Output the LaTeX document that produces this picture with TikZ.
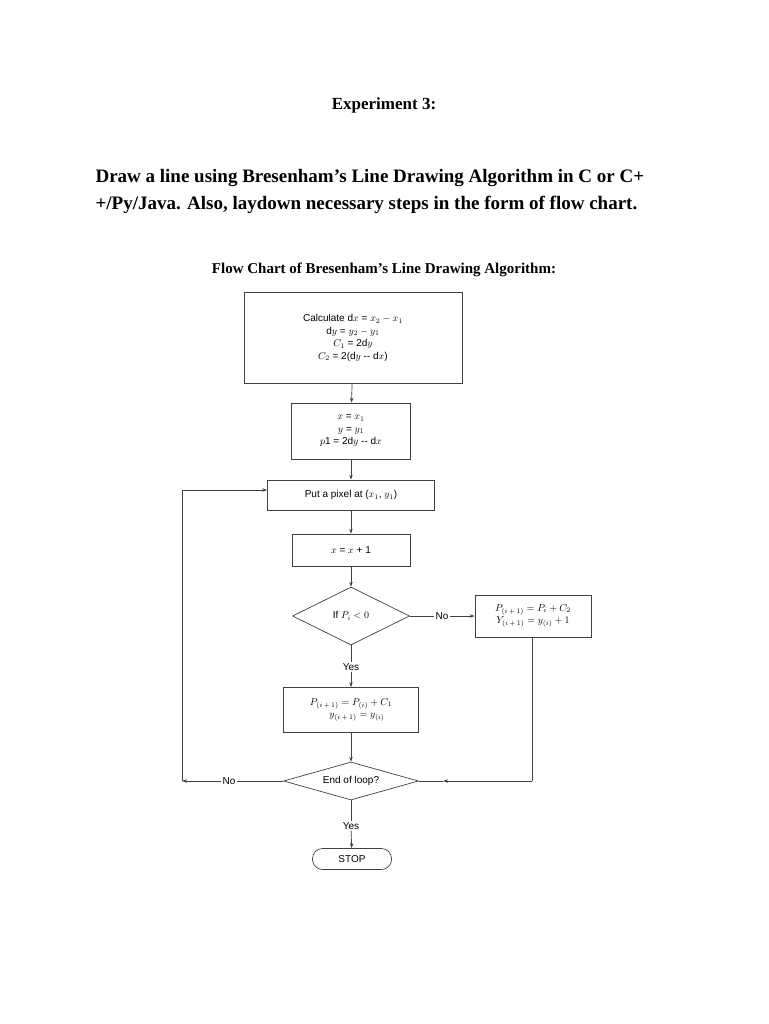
\documentclass[tikz,border=0pt]{standalone}
\usepackage{fontspec}
\setmainfont{Liberation Serif}
\newfontfamily\chartfont{Liberation Sans}
\usetikzlibrary{shapes.geometric,arrows.meta}
\begin{document}
\begin{tikzpicture}[x=1pt,y=-1pt,
  box/.style={draw=black!75,line width=0.7pt,rectangle,align=center,font=\chartfont\fontsize{10}{12.5}\selectfont,inner sep=0pt},
  dia/.style={draw=black!75,line width=0.7pt,diamond,aspect=2,inner sep=0pt,font=\chartfont\fontsize{10}{12}\selectfont},
  lbl/.style={font=\chartfont\fontsize{10}{12}\selectfont,inner sep=1pt},
  arr/.style={draw=black!75,line width=0.7pt,-{Stealth[length=5pt,width=3.5pt]}},
  ln/.style={draw=black!75,line width=0.7pt}]
\useasboundingbox (0,0) rectangle (768,1024);
\node[font=\bfseries\fontsize{17}{20}\selectfont] (t1) at (384,105) {Experiment 3:};
\node[font=\bfseries\fontsize{19}{27}\selectfont,anchor=north west,align=left] (t2) at (92,166)
 {Draw a line using Bresenham’s Line Drawing Algorithm in C or C+\\+/Py/Java. Also, laydown necessary steps in the form of flow chart.};
\node[font=\bfseries\fontsize{15}{18}\selectfont] (t3) at (384,270) {Flow Chart of Bresenham’s Line Drawing Algorithm:};

\node[box,minimum width=218pt,minimum height=91pt] (b1) at (353,338)
 {\raisebox{12pt}{\begin{tabular}{c}Calculate d$x$ = $x_2 - x_1$\\ d$y$ = $y_2 - y_1$\\ $C_1$ = 2d$y$\\ $C_2$ = 2(d$y$ -- d$x$)\end{tabular}}};
\node[box,minimum width=119pt,minimum height=56pt] (b2) at (351,431)
 {$x$ = $x_1$\\ $y$ = $y_1$\\ $p$1 = 2d$y$ -- d$x$};
\node[box,minimum width=167pt,minimum height=30pt] (b3) at (351,495) {Put a pixel at ($x_1$, $y_1$)};
\node[box,minimum width=118pt,minimum height=32pt] (b4) at (351,550) {$x$ = $x$ + 1};
\node[dia,minimum width=117pt,minimum height=58pt] (d1) at (351,616) {If $P_i < 0$};
\node[box,minimum width=116pt,minimum height=42pt] (br) at (533,616)
 {$P_{(i\,+\,1)} = P_i + C_2$\\ $Y_{(i\,+\,1)} = y_{(i)} + 1$};
\node[box,minimum width=135pt,minimum height=45pt] (b5) at (351,710)
 {$P_{(i\,+\,1)} = P_{(i)} + C_1$\\ \hspace*{12pt}$y_{(i\,+\,1)} = y_{(i)}$};
\node[dia,minimum width=135pt,minimum height=38pt] (d2) at (351,781) {End of loop?};
\node[box,rounded corners=10pt,minimum width=79pt,minimum height=21pt] (st) at (352,859) {STOP};

\node[lbl] (no1) at (442,616) {No};
\node[lbl] (yes1) at (351,667) {Yes};
\node[lbl] (no2) at (229,781) {No};
\node[lbl] (yes2) at (351,826) {Yes};
\coordinate (c1) at (182,781);
\coordinate (c2) at (182,490);
\coordinate (c3) at (532,781);

\draw[arr] (b1) -- (b2);
\draw[arr] (b2) -- (b3);
\draw[arr] (b3) -- (b4);
\draw[arr] (b4) -- (d1);
\draw[ln] (d1) -- (no1);
\draw[arr] (no1) -- (br);
\draw[ln] (d1) -- (yes1);
\draw[arr] (yes1) -- (b5);
\draw[arr] (b5) -- (d2);
\draw[ln] (d2) -- (no2);
\draw[arr] (no2) -- (c1);
\draw[ln] (c1) -- (c2);
\draw[arr] (c2) -- (b3.west |- c2);
\draw[ln] (br.south -| c3) -- (c3);
\draw[arr] (c3) -- (443,781);
\draw[ln] (443,781) -- (d2.east);
\draw[ln] (d2) -- (yes2);
\draw[arr] (yes2) -- (st);
\end{tikzpicture}
\end{document}
